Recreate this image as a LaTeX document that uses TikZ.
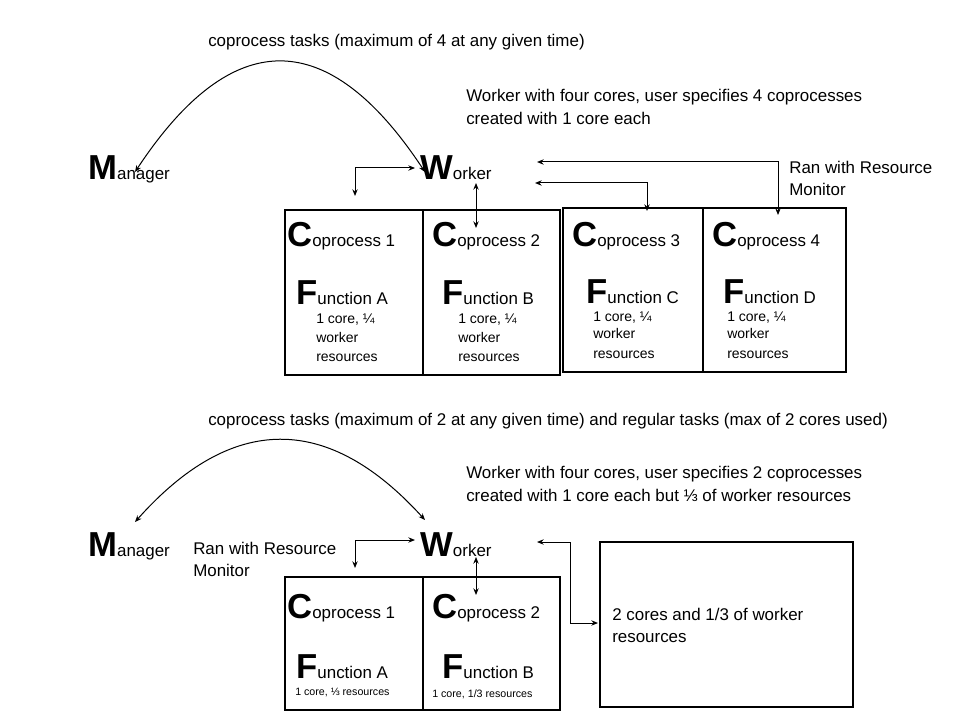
\documentclass[tikz,border=0pt]{standalone}
\usepackage{fontspec}
\setmainfont{Liberation Sans}
\usetikzlibrary{arrows.meta}
\begin{document}
\begin{tikzpicture}[x=0.75pt,y=-0.75pt,
  txt/.style={anchor=base west,inner sep=0pt,font=\fontsize{12.7}{15}\selectfont},
  sm/.style={anchor=base west,inner sep=0pt,font=\fontsize{10.5}{12}\selectfont},
  tiny/.style={anchor=base west,inner sep=0pt,font=\fontsize{8}{10}\selectfont},
  lbl/.style={anchor=base west,inner sep=0pt},
  box/.style={draw,line width=2.2pt},
  con/.style={line width=0.75pt,{Stealth[length=5pt,width=4pt]}-{Stealth[length=5pt,width=4pt]}}]
\newcommand{\bigini}[2]{{\fontsize{26}{26}\selectfont\bfseries #1}{\fontsize{12.7}{12}\selectfont #2}}
\useasboundingbox (0,0) rectangle (960,720);
% ---------- top ----------
\node[txt] (t1) at (208,47) {coprocess tasks (maximum of 4 at any given time)};
\node[txt] (t2a) at (466,102) {Worker with four cores, user specifies 4 coprocesses};
\node[txt] (t2b) at (466,125) {created with 1 core each};
\node[lbl] (m1) at (88,180) {\bigini{M}{anager}};
\node[lbl] (w1) at (420,180) {\bigini{W}{orker}};
\node[txt] (r1a) at (789,174) {Ran with Resource};
\node[txt] (r1b) at (789,196) {Monitor};
\coordinate (ma) at (135,172); \coordinate (wa) at (425,172);
\draw[con] (ma) .. controls (232,25) and (328,25) .. (wa);
\draw[box] (285,210) rectangle (423,375);
\draw[box] (423,210) rectangle (560,375);
\draw[box] (563,208) rectangle (703,372);
\draw[box] (703,208) rectangle (846,372);
\foreach \x/\y/\n in {287/247/1,432/247/2,572/247/3,712/247/4}{
  \node[lbl] at (\x,\y) {\bigini{C}{oprocess \n}};
}
\node[lbl] at (296,305) {\bigini{F}{unction A}};
\node[lbl] at (442,305) {\bigini{F}{unction B}};
\node[lbl] at (586,303) {\bigini{F}{unction C}};
\node[lbl] at (723,303) {\bigini{F}{unction D}};
\foreach \x/\y in {316/324,458/324,593/321,727/321}{
  \node[sm] at (\x,\y) {1 core, ¼};
  \node[sm] at (\x,\y+18) {worker};
  \node[sm] at (\x,\y+37) {resources};
}
\coordinate (a1) at (415,168); \coordinate (a2) at (355,196);
\draw[con] (a1) -| (a2);
\coordinate (a3) at (476,183); \coordinate (a4) at (476,228);
\draw[con] (a3) -- (a4);
\coordinate (a5) at (535,183); \coordinate (a6) at (647,211);
\draw[con] (a5) -| (a6);
\coordinate (a7) at (537,162); \coordinate (a8) at (778,215);
\draw[con] (a7) -| (a8);
% ---------- bottom ----------
\node[txt] (t3) at (208,425) {coprocess tasks (maximum of 2 at any given time) and regular tasks (max of 2 cores used)};
\node[txt] (t4a) at (466,478) {Worker with four cores, user specifies 2 coprocesses};
\node[txt] (t4b) at (466,501) {created with 1 core each but ⅓ of worker resources};
\node[lbl] (m2) at (88,556) {\bigini{M}{anager}};
\node[lbl] (w2) at (420,556) {\bigini{W}{orker}};
\node[txt] (r2a) at (193,554) {Ran with Resource};
\node[txt] (r2b) at (193,576) {Monitor};
\coordinate (mb) at (135,522); \coordinate (wb) at (425,520);
\draw[con] (mb) .. controls (232,413) and (328,413) .. (wb);
\draw[box] (285,577) rectangle (423,710);
\draw[box] (423,577) rectangle (560,710);
\draw[box] (600,542) rectangle (853,707);
\node[lbl] at (287,618) {\bigini{C}{oprocess 1}};
\node[lbl] at (432,618) {\bigini{C}{oprocess 2}};
\node[lbl] at (296,678) {\bigini{F}{unction A}};
\node[lbl] at (442,678) {\bigini{F}{unction B}};
\node[tiny] at (295,695) {1 core, ⅓ resources};
\node[tiny] at (432,697) {1 core, 1/3 resources};
\node[txt] at (612,620) {2 cores and 1/3 of worker};
\node[txt] at (612,642) {resources};
\coordinate (d1) at (415,540); \coordinate (d2) at (355,568);
\draw[con] (d1) -| (d2);
\coordinate (d3) at (476,557); \coordinate (d4) at (476,595);
\draw[con] (d3) -- (d4);
\coordinate (d5) at (537,542); \coordinate (d6) at (598,623);
\draw[con] (d5) -| (570,623) -- (d6);
\end{tikzpicture}
\end{document}
